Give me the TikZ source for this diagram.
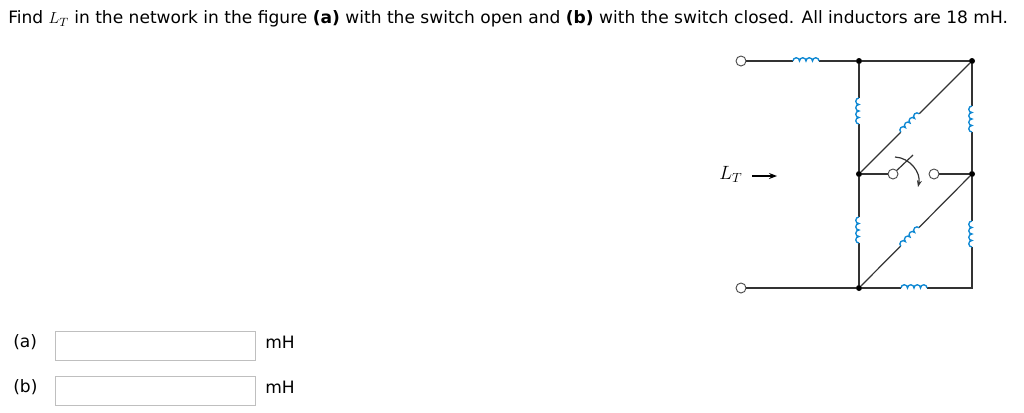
\documentclass[tikz,border=0pt]{standalone}
\usepackage{fontspec}
\setsansfont{DejaVu Sans}
\usetikzlibrary{arrows.meta}
\begin{document}
\begin{tikzpicture}[x=0.75pt,y=-0.75pt,
  wire/.style={line width=0.9pt,black!80},
  dot/.style={circle,fill=black,inner sep=0pt,minimum size=4.5pt},
  term/.style={circle,draw=black!70,fill=white,inner sep=0pt,minimum size=7.5pt,line width=0.7pt},
  ansbox/.style={draw=black!25,minimum width=150pt,minimum height=22pt,inner sep=0pt},
  txt/.style={font=\sffamily\fontsize{12.8}{15}\selectfont,inner sep=0pt},
  ind/.pic={\draw[white,line width=3pt] (-13,0)--(13,0);
    \draw[cyan!70!blue,line width=1pt] (-13,0) arc(180:360:3.25) arc(180:360:3.25) arc(180:360:3.25) arc(180:360:3.25);}]
\useasboundingbox (0,0) rectangle (1024,412);
\node[txt,anchor=west] (title) at (8,19) {Find $L_T$ in the network in the figure \textbf{(a)} with the switch open and \textbf{(b)} with the switch closed. All inductors are 18 mH.};
% nodes
\node[term] (t1) at (741,61) {};
\node[term] (t2) at (741,288) {};
\node[dot] (A) at (859,61) {};
\node[dot] (B) at (972,61) {};
\node[dot] (C) at (859,174) {};
\node[dot] (D) at (972,174) {};
\node[dot] (E) at (859,288) {};
\coordinate (F) at (972,288);
\node[term] (s1) at (893,174) {};
\node[term] (s2) at (934,174) {};
% wires
\draw[wire] (t1)--(A)--(B)--(D)--(F)--(E)--(t2);
\draw[wire] (A)--(C)--(E);
\draw[wire] (C)--(B);
\draw[wire] (E)--(D);
\draw[wire] (C)--(s1);
\draw[wire] (s2)--(D);
\draw[wire] (s1)--(913,155);
\draw[wire,-{Stealth[length=5pt]}] (895,157) to[bend left=50] (918,187);
% inductors
\pic at (806,61) {ind};
\pic at (914,288) {ind};
\pic[rotate=90] at (859,111) {ind};
\pic[rotate=90] at (859,230) {ind};
\pic[rotate=90] at (972,119) {ind};
\pic[rotate=90] at (972,234) {ind};
\pic[rotate=45] at (910,123) {ind};
\pic[rotate=45] at (910,237) {ind};
% L_T
\node[inner sep=0pt,font=\fontsize{14}{16}\selectfont] (LT) at (731,174) {$L_T$};
\coordinate (ar) at (777,176);
\draw[line width=0.8pt,-{Stealth[length=6pt]}] (752,176)--(ar);
% answers
\node[txt,anchor=west] (la) at (13,342) {(a)};
\node[ansbox,anchor=north west] (ba) at (55,331) {};
\node[txt,anchor=west] (ua) at (265,342) {mH};
\node[txt,anchor=west] (lb) at (13,387) {(b)};
\node[ansbox,anchor=north west] (bb) at (55,376) {};
\node[txt,anchor=west] (ub) at (265,387) {mH};
\end{tikzpicture}
\end{document}
